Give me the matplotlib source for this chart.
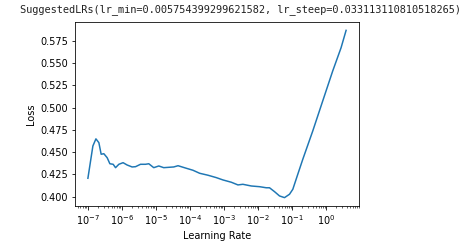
import matplotlib
matplotlib.use("Agg")
import matplotlib.pyplot as plt

# learning rates and losses
lrs = [1.00e-07, 1.40e-07, 1.72e-07, 2.10e-07, 2.45e-07, 2.94e-07, 3.68e-07,
       4.42e-07, 5.52e-07, 6.49e-07, 8.11e-07, 1.08e-06, 1.42e-06, 1.99e-06,
       2.51e-06, 3.51e-06, 4.92e-06, 6.15e-06, 8.61e-06, 1.21e-05, 1.69e-05,
       3.33e-05, 4.45e-05, 7.83e-05, 1.22e-04, 1.92e-04, 3.37e-04, 5.94e-04,
       9.29e-04, 1.64e-03, 2.56e-03, 3.58e-03, 6.32e-03, 1.11e-02, 1.74e-02,
       2.17e-02, 3.05e-02, 4.27e-02, 5.98e-02, 8.39e-02, 1.05e-01, 1.47e-01,
       2.06e-01, 4.05e-01, 7.94e-01, 1.56e+00, 2.75e+00, 3.86e+00]
losses = [0.4207, 0.4570, 0.4650, 0.4607, 0.4477, 0.4483, 0.4438,
          0.4370, 0.4364, 0.4326, 0.4364, 0.4382, 0.4356, 0.4334,
          0.4337, 0.4364, 0.4364, 0.4370, 0.4326, 0.4345, 0.4326,
          0.4334, 0.4348, 0.4319, 0.4297, 0.4263, 0.4241, 0.4214,
          0.4188, 0.4162, 0.4132, 0.4139, 0.4120, 0.4112, 0.4100,
          0.4100, 0.4056, 0.4008, 0.3989, 0.4027, 0.4083, 0.4252,
          0.4420, 0.4739, 0.5076, 0.5413, 0.5675, 0.5870]

titulo = "SuggestedLRs(lr_min=0.005754399299621582, lr_steep=0.033113110810518265)"

fig = plt.figure(figsize=(474/72, 249/72), dpi=72)
ax = fig.add_axes([75/474, 1-206/249, 284/474, 184/249])
ax.plot(lrs, losses, color='#1f77b4', linewidth=1.5)
ax.set_xscale('log')
ax.set_xlabel('Learning Rate', fontsize=9.7)
ax.set_ylabel('Loss', fontsize=9.7)
ax.tick_params(labelsize=9.7)
ax.set_yticks([0.400, 0.425, 0.450, 0.475, 0.500, 0.525, 0.550, 0.575])

fig.text(20/474, 1-10/249, titulo, family='DejaVu Sans Mono', fontsize=10.2,
         va='center', ha='left', color='#222222')

fig.savefig('out.png', dpi=72)
